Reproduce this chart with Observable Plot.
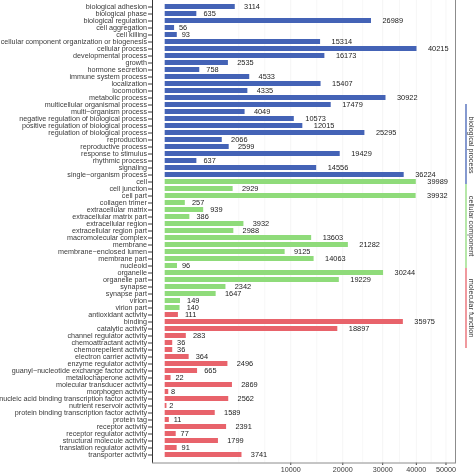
<!DOCTYPE html>
<html><head><meta charset="utf-8">
<script src="https://cdn.jsdelivr.net/npm/d3@7"></script>
<script src="https://cdn.jsdelivr.net/npm/@observablehq/plot@0.6"></script>
<style>
html,body{margin:0;padding:0;background:#fff;overflow:hidden}
#chart svg{display:block;will-change:transform;opacity:0.999}
</style>
</head><body><div id="chart"></div>
<script>
const bpTerms = ["biological adhesion","biological phase","biological regulation","cell aggregation","cell killing","cellular component organization or biogenesis","cellular process","developmental process","growth","hormone secretion","immune system process","localization","locomotion","metabolic process","multicellular organismal process","multi\u2212organism process","negative regulation of biological process","positive regulation of biological process","regulation of biological process","reproduction","reproductive process","response to stimulus","rhythmic process","signaling","single\u2212organism process"];
const bpValues = [3114,635,26989,56,93,15314,40215,16173,2535,758,4533,15407,4335,30922,17479,4049,10573,12015,25295,2066,2599,19429,637,14556,36224];
const ccTerms = ["cell","cell junction","cell part","collagen trimer","extracellular matrix","extracellular matrix part","extracellular region","extracellular region part","macromolecular complex","membrane","membrane\u2212enclosed lumen","membrane part","nucleoid","organelle","organelle part","synapse","synapse part","virion","virion part"];
const ccValues = [39989,2929,39932,257,939,386,3932,2988,13603,21282,9125,14063,96,30244,19229,2342,1647,149,140];
const mfTerms = ["antioxidant activity","binding","catalytic activity","channel regulator activity","chemoattractant activity","chemorepellent activity","electron carrier activity","enzyme regulator activity","guanyl\u2212nucleotide exchange factor activity","metallochaperone activity","molecular transducer activity","morphogen activity","nucleic acid binding transcription factor activity","nutrient reservoir activity","protein binding transcription factor activity","protein tag","receptor activity","receptor regulator activity","structural molecule activity","translation regulator activity","transporter activity"];
const mfValues = [111,35975,18897,283,36,36,364,2496,665,22,2869,8,2562,2,1589,11,2391,77,1799,91,3741];
const groupNames = ["biological process","cellular component","molecular function"];
const groupColors = ["#4463B6","#8FDB7A","#E8636B"];
const xTicks = [10000,20000,30000,40000,50000];
const xMinorGrid = [3434,6288,14571,24749,34820,44860];

const data = [];
[[bpTerms,bpValues],[ccTerms,ccValues],[mfTerms,mfValues]].forEach(([terms,vals],g) =>
  terms.forEach((term,i) => data.push({term, value: vals[i], group: groupNames[g]})));

const xMin = -102, xMax = 53450;
const step = 457/64;
const pIn = 0.26, pOut = 0.13;
const r0 = 2.3 - step*(pOut + (1-pIn)/2);
const r1 = 459.3 + step*(pOut + (1-pIn)/2);

const labelMarks = [1,2,3,4,5].map(n => Plot.text(data, {
  filter: d => String(d.value).length === n,
  x: "value", y: "term", text: d => String(d.value),
  textAnchor: "start", dx: 2.2*n, fill: "#1a1a1a", fontSize: 7.4
}));

const chart = Plot.plot({
  width: 474, height: 474,
  marginLeft: 152, marginRight: 19, marginTop: -2, marginBottom: 11.5,
  style: {fontFamily: "'Liberation Sans', Arial, sans-serif", fontSize: "7.2px", background: "transparent", color: "#3a3a3a"},
  x: {type: "sqrt", domain: [xMin, xMax], ticks: xTicks, tickFormat: d => String(d), tickSize: 2.5, tickPadding: 1.5, label: null},
  y: {type: "band", domain: data.map(d => d.term), range: [r0, r1], paddingInner: pIn, paddingOuter: pOut, tickSize: 4, tickPadding: 1.5, label: null},
  color: {domain: groupNames, range: groupColors},
  marks: [
    Plot.ruleX(xMinorGrid, {stroke: "#f2f2f2", strokeWidth: 0.6}),
    Plot.ruleX(xTicks, {stroke: "#f2f2f2", strokeWidth: 0.8}),
    Plot.barX(data, {y: "term", x: "value", fill: "group"}),
    ...labelMarks,
    Plot.frame({stroke: "#8c8c8c", strokeWidth: 1}),
    Plot.ruleX([xMin], {stroke: "#333", strokeWidth: 1})
  ]
});
document.getElementById("chart").append(chart);

// group annotation strip on the right
const svg = d3.select(chart);
const strip = [[104,184,145],[184,268,226],[268,348,308]];
const g = svg.append("g");
strip.forEach(([a,b,c],i) => {
  g.append("line").attr("x1",466).attr("x2",466).attr("y1",a).attr("y2",b)
    .attr("stroke", groupColors[i]).attr("stroke-width", 1.3);
  g.append("text").attr("transform", `translate(468.5,${c}) rotate(90)`)
    .attr("text-anchor","middle").attr("fill","#333").attr("font-size",7.2)
    .text(groupNames[i]);
});
</script>
</body></html>
